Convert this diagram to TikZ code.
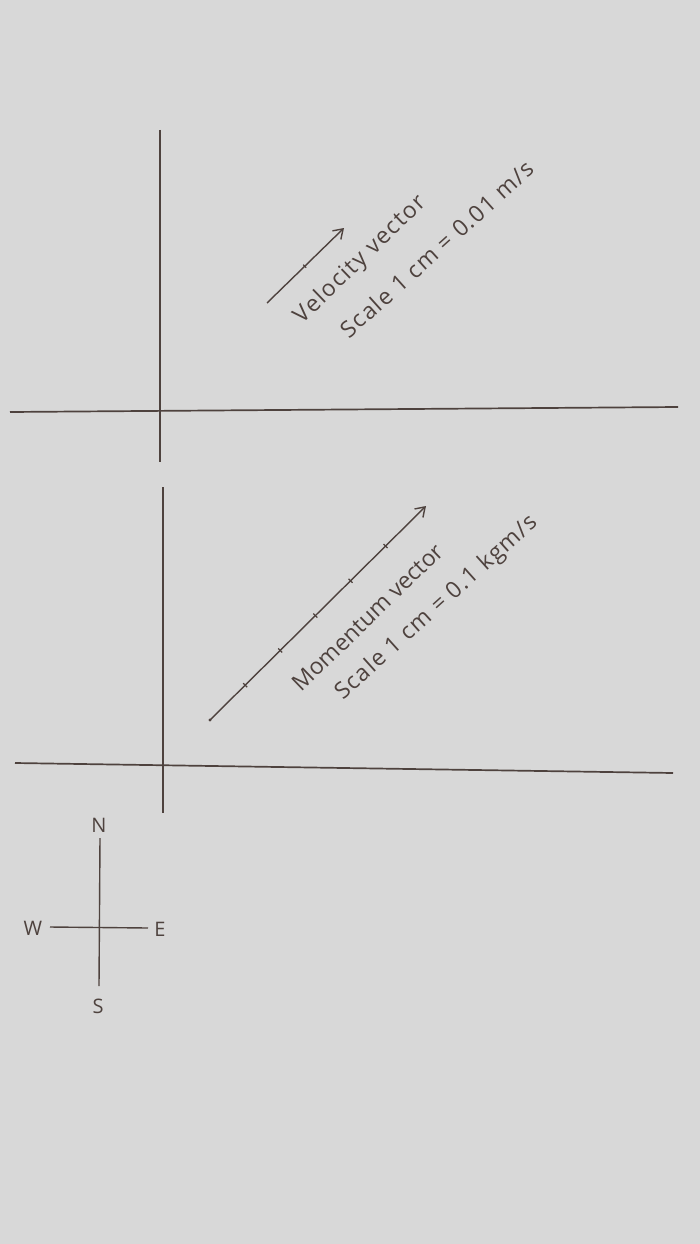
\documentclass[tikz,border=0pt]{standalone}
\usepackage{fontspec}
\setmainfont{Open Sans}
\usetikzlibrary{arrows.meta,calc}
\definecolor{paper}{RGB}{216,216,216}
\definecolor{ink}{RGB}{78,66,62}
\begin{document}
\begin{tikzpicture}[x=1pt,y=-1pt,
  axisline/.style={draw=ink,line width=1.7pt},
  vec/.style={draw=ink,line width=1.4pt,-{Straight Barb[length=9pt,width=12pt,line width=1.4pt]}},
  lbl/.style={text=ink,font=\fontsize{23}{25}\selectfont\addfontfeatures{LetterSpace=6},inner sep=0pt},
  tlbl/.style={text=ink,font=\fontsize{23}{25}\selectfont,inner sep=0pt},
  clbl/.style={text=ink,font=\fontsize{20}{22}\selectfont,inner sep=0pt},
  tick/.style={draw=ink,line width=1.2pt}]
\fill[paper] (0,0) rectangle (700,1244);
\useasboundingbox (0,0) rectangle (700,1244);
% upper axes
\coordinate (uvt) at (160,130);
\coordinate (uvb) at (160,462);
\coordinate (uhl) at (10,412);
\coordinate (uhr) at (678,407);
\draw[axisline] (uvt) -- (uvb);
\draw[axisline] (uhl) -- (uhr);
% lower axes
\coordinate (lvt) at (163,487);
\coordinate (lvb) at (163,813);
\coordinate (lhl) at (15,763);
\coordinate (lhr) at (673,773);
\draw[axisline] (lvt) -- (lvb);
\draw[axisline] (lhl) -- (lhr);
% velocity vector
\coordinate (va) at (267,303);
\coordinate (vb) at (344,228);
\draw[vec] (va) -- (vb);
\path (va) -- (vb) coordinate[pos=0.49] (vt);
\draw[tick] ($(vt)+(-1.5,-1.5)$) -- ($(vt)+(1.5,1.5)$);
\node[lbl,rotate=44] (vtitle) at (361,260) {Velocity vector};
\node[lbl,rotate=42] (vscale) at (437,249) {Scale 1 cm = 0.01 m/s};
% momentum vector
\coordinate (ma) at (210,720);
\coordinate (mb) at (426,506);
\draw[vec] (ma) -- (mb);
\foreach \i in {1,...,5}{
  \path (ma) -- (mb) coordinate[pos=\i/6.15] (mt\i);
  \draw[tick] ($(mt\i)+(-2,-2)$) -- ($(mt\i)+(2,2)$);
}
\fill[ink] (ma) circle (1.7);
\node[tlbl,rotate=44] (mtitle) at (368,617) {Momentum vector};
\node[lbl,rotate=42] (mscale) at (437,608) {Scale 1 cm = 0.1 kgm/s};
% compass
\node[clbl] (N) at (99,825) {N};
\node[clbl] (S) at (98,1006) {S};
\node[clbl] (W) at (33,928) {W};
\node[clbl] (E) at (160,929) {E};
\coordinate (cn) at (100,838);
\coordinate (cs) at (99,986);
\coordinate (cw) at (50,927);
\coordinate (ce) at (148,928);
\draw[draw=ink,line width=1.4pt] (cn) -- (cs);
\draw[draw=ink,line width=1.4pt] (cw) -- (ce);
\end{tikzpicture}
\end{document}
